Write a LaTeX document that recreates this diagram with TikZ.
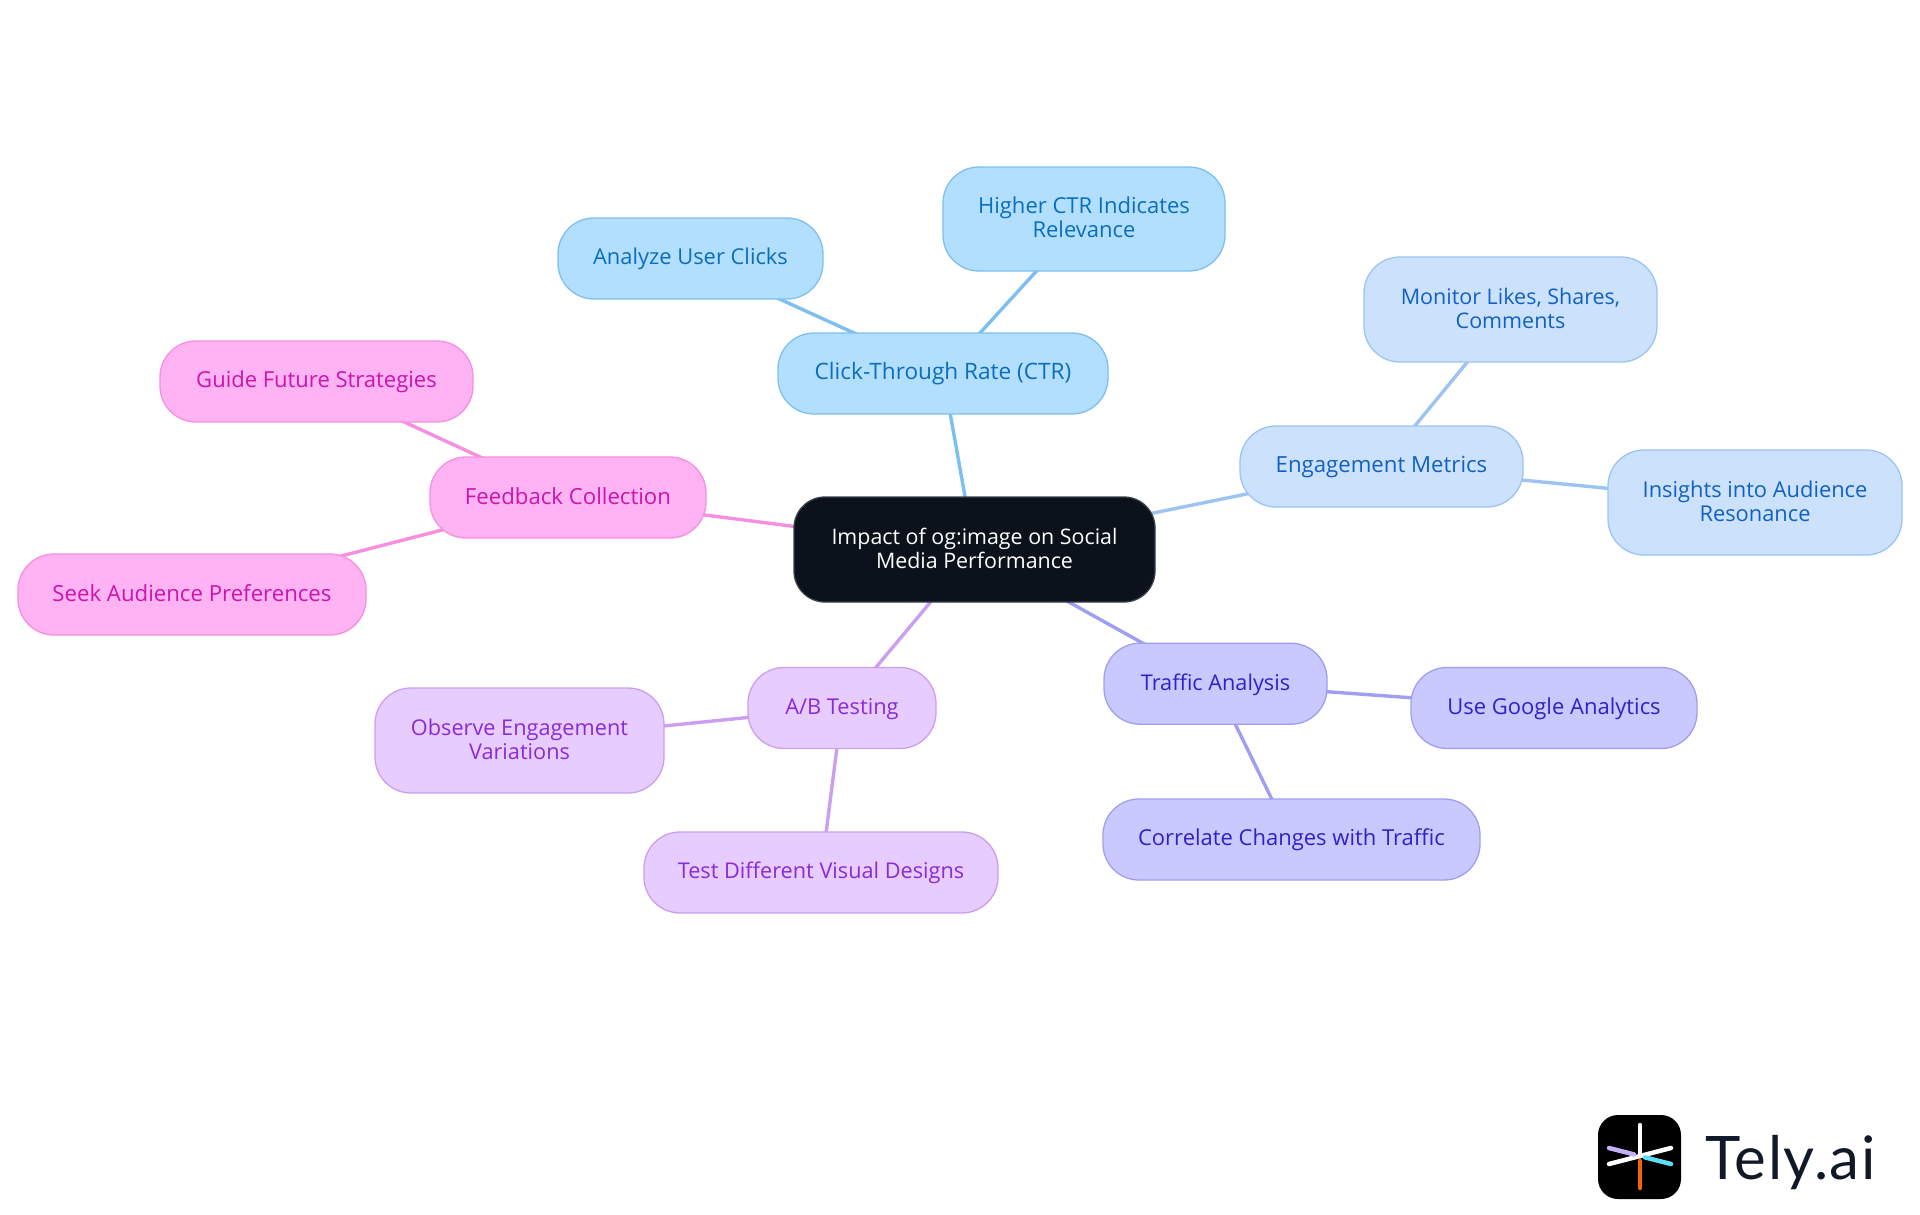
\documentclass[tikz,border=0pt]{standalone}
\usepackage{fontspec}
\setmainfont{Open Sans}
\newfontfamily\logofont[LetterSpace=2.5]{Lato}
\usetikzlibrary{backgrounds}
\definecolor{ctrF}{HTML}{B3DFFF}\definecolor{ctrS}{HTML}{7DBFF0}\definecolor{ctrT}{HTML}{0A6EBD}
\definecolor{engF}{HTML}{CCE2FC}\definecolor{engS}{HTML}{9CC3F2}\definecolor{engT}{HTML}{1160C4}
\definecolor{trfF}{HTML}{C9C9FF}\definecolor{trfS}{HTML}{A09EF2}\definecolor{trfT}{HTML}{3320C7}
\definecolor{abF}{HTML}{E6CCFF}\definecolor{abS}{HTML}{CB9EEF}\definecolor{abT}{HTML}{8A2BD6}
\definecolor{fbF}{HTML}{FFB3F3}\definecolor{fbS}{HTML}{F58FE0}\definecolor{fbT}{HTML}{CC14AE}
\definecolor{rootF}{HTML}{0B121B}\definecolor{rootS}{HTML}{3A4048}
\definecolor{logoT}{HTML}{111827}
\definecolor{spokeP}{RGB}{196,176,245}\definecolor{spokeC}{RGB}{90,222,240}\definecolor{spokeO}{RGB}{240,100,10}
\newcommand{\ls}{\rule[-4.4pt]{0pt}{22.4pt}}
\tikzset{
 x=1pt,y=-1pt,
 box/.style={rectangle,rounded corners=36pt,inner sep=0pt,line width=1.3pt,align=center,
   font=\fontsize{22}{24}\selectfont},
 fs/.style={font=\fontsize{#1}{24}\selectfont},
 ctr/.style={box,fill=ctrF,draw=ctrS,text=ctrT},
 eng/.style={box,fill=engF,draw=engS,text=engT},
 trf/.style={box,fill=trfF,draw=trfS,text=trfT},
 abt/.style={box,fill=abF,draw=abS,text=abT},
 fbk/.style={box,fill=fbF,draw=fbS,text=fbT},
 root/.style={box,rounded corners=31pt,fill=rootF,draw=rootS,text=white},
 edge/.style={line width=3.4pt},
 spoke/.style={line width=4.5pt,line cap=round},
}
\begin{document}
\begin{tikzpicture}
\useasboundingbox (0,0) rectangle (1920,1215);
\node[root,fs=21.4,minimum width=361pt,minimum height=105pt] (r) at (974.5,549.5) {\ls Impact of og:image on Social\\\ls Media Performance};
\node[ctr,fs=22.6,minimum width=330pt,minimum height=81pt] (c) at (943,373.5) {\ls Click-Through Rate (CTR)};
\node[ctr,fs=21.9,minimum width=265pt,minimum height=81pt] (c1) at (690.5,258.5) {\ls Analyze User Clicks};
\node[ctr,fs=22,minimum width=282pt,minimum height=104pt] (c2) at (1084,219) {\ls Higher CTR Indicates\\\ls Relevance};
\node[eng,fs=22.2,minimum width=283pt,minimum height=81pt] (e) at (1381.5,466.5) {\ls Engagement Metrics};
\node[eng,fs=21.5,minimum width=293pt,minimum height=105pt] (e1) at (1510.5,309.5) {\ls Monitor Likes, Shares,\\\ls Comments};
\node[eng,fs=21.85,minimum width=294pt,minimum height=105pt] (e2) at (1755,502.5) {\ls Insights into Audience\\\ls Resonance};
\node[trf,fs=21.7,minimum width=223pt,minimum height=81pt] (t) at (1215.5,683.7) {\ls Traffic Analysis};
\node[trf,fs=22,minimum width=286pt,minimum height=81pt] (t1) at (1554,708) {\ls Use Google Analytics};
\node[trf,fs=22,minimum width=377pt,minimum height=81pt] (t2) at (1291.5,839.5) {\ls Correlate Changes with Traffic};
\node[abt,fs=21.8,minimum width=188pt,minimum height=81pt] (a) at (842,708) {\ls A/B Testing};
\node[abt,fs=21.7,minimum width=289pt,minimum height=105pt] (a1) at (519.5,740.5) {\ls Observe Engagement\\\ls Variations};
\node[abt,fs=21.7,minimum width=354pt,minimum height=81pt] (a2) at (821,872.5) {\ls Test Different Visual Designs};
\node[fbk,fs=22.2,minimum width=276pt,minimum height=81pt] (f) at (568,497.5) {\ls Feedback Collection};
\node[fbk,fs=22,minimum width=313pt,minimum height=81pt] (f1) at (316.5,381.5) {\ls Guide Future Strategies};
\node[fbk,fs=22.2,minimum width=348pt,minimum height=81pt] (f2) at (192,594.5) {\ls Seek Audience Preferences};
\begin{pgfonlayer}{background}
\draw[edge,ctrS] (r.center)--(c.center) (c.center)--(c1.center) (c.center)--(c2.center);
\draw[edge,engS] (r.center)--(e.center) (e.center)--(e1.center) (e.center)--(e2.center);
\draw[edge,trfS] (r.center)--(t.center) (t.center)--(t1.center) (t.center)--(t2.center);
\draw[edge,abS] (r.center)--(a.center) (a.center)--(a1.center) (a.center)--(a2.center);
\draw[edge,fbS] (r.center)--(f.center) (f.center)--(f1.center) (f.center)--(f2.center);
\end{pgfonlayer}
% logo
\node[rectangle,fill=black,rounded corners=20pt,minimum width=83pt,minimum height=84pt,inner sep=0pt] (logo) at (1639.5,1157) {};
\coordinate (hub) at (1640,1156);
\coordinate (sT) at (1640,1125);
\coordinate (sB) at (1640,1188);
\coordinate (sUL) at (1609,1148);
\coordinate (sUR) at (1671,1148);
\coordinate (sLL) at (1609,1164);
\coordinate (sLR) at (1671,1164);
\coordinate (hUL) at (1634,1154.4);
\coordinate (hLR) at (1645,1157.4);
\coordinate (hB) at (1640,1161);
\draw[spoke,white] (hub)--(sT);
\draw[spoke,white] (hub)--(sUR);
\draw[spoke,white] (hub)--(sLL);
\draw[spoke,spokeP] (sUL)--(hUL);
\draw[spoke,spokeC] (hLR)--(sLR);
\draw[spoke,spokeO] (hB)--(sB);
\node[inner sep=0pt,anchor=base west,text=logoT,font=\logofont\fontsize{60}{62}\selectfont] (tely) at (1705,1179) {Tely.ai};
\end{tikzpicture}
\end{document}
